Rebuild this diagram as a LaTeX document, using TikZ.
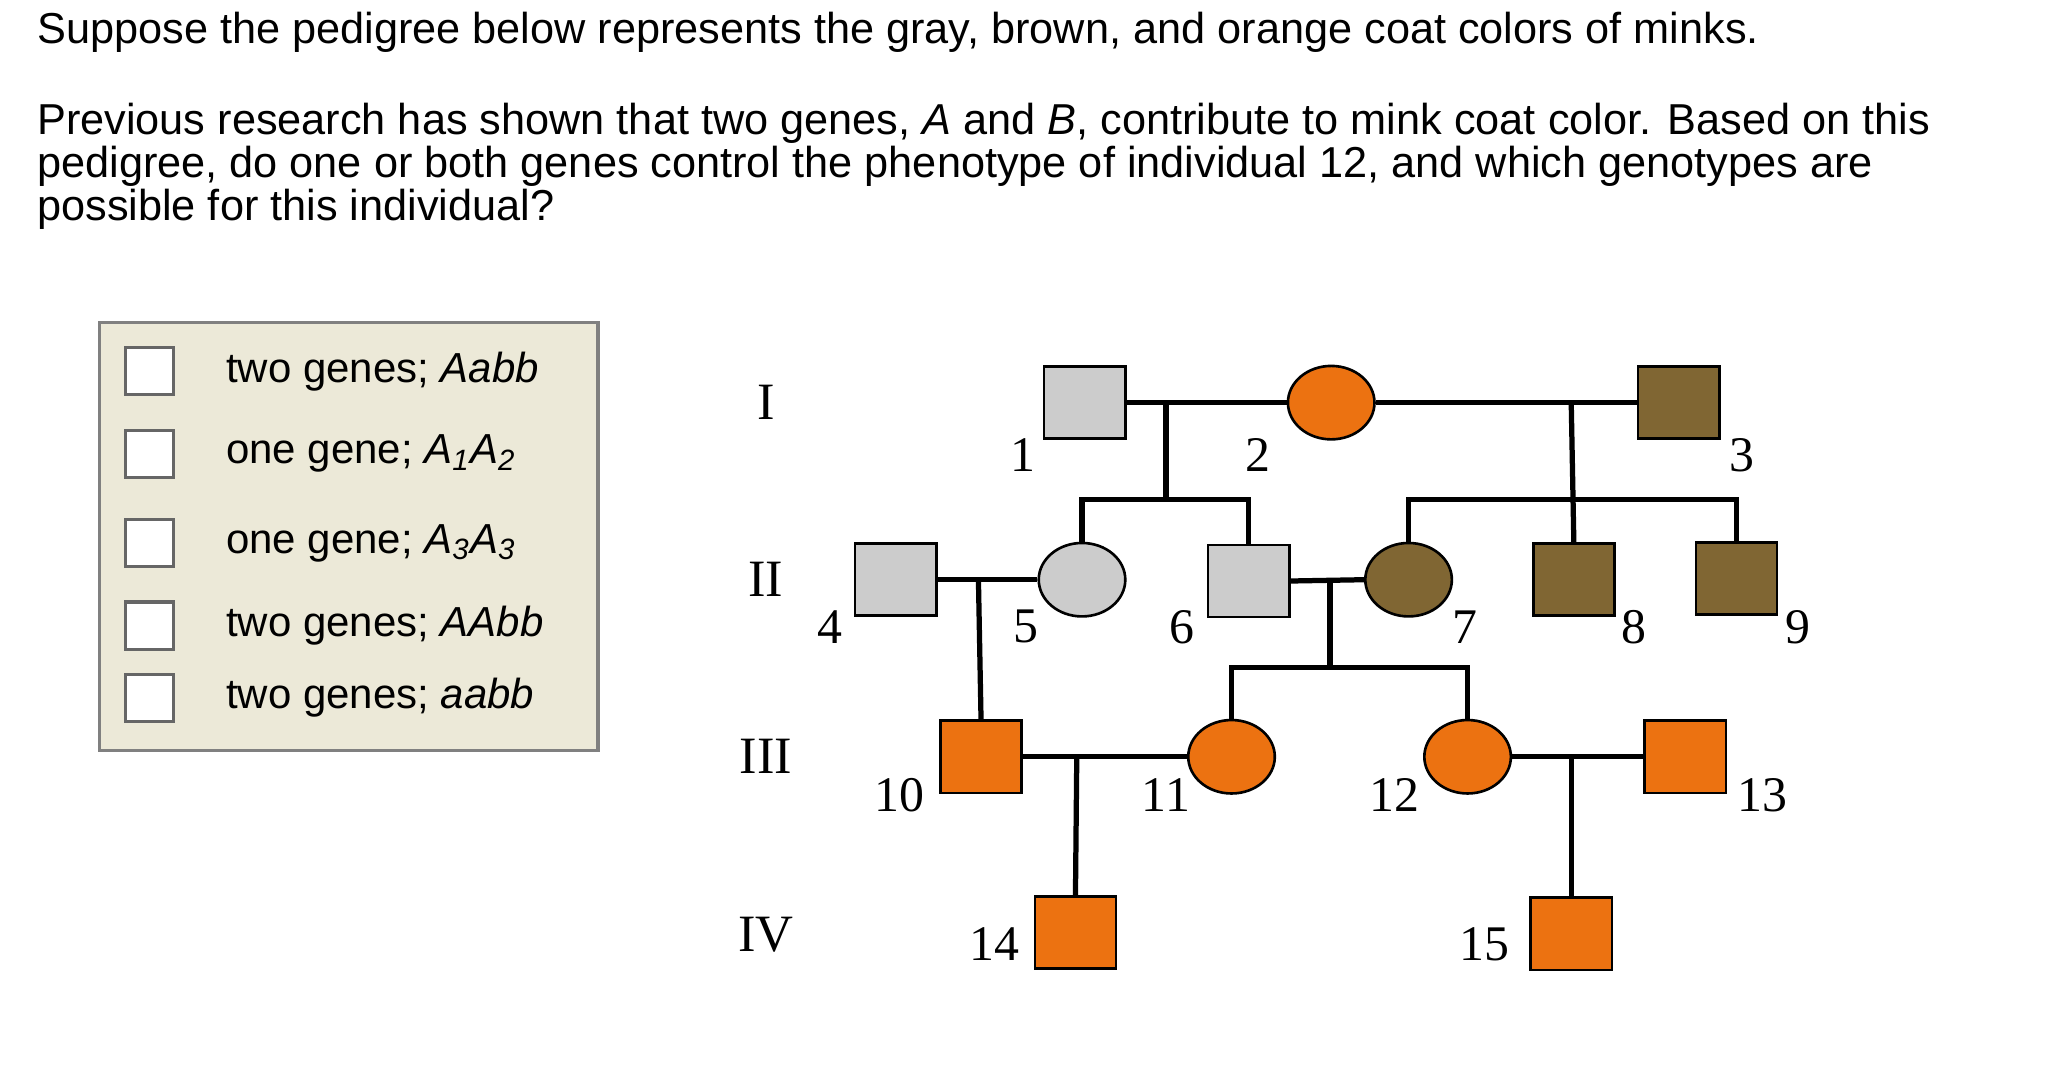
\documentclass[tikz,border=0pt]{standalone}
\usepackage{fontspec}
\setmainfont{Liberation Sans}
\newfontfamily\serifnum{Liberation Serif}
\usetikzlibrary{shapes.geometric}
\definecolor{gy}{HTML}{CCCCCC}
\definecolor{og}{HTML}{EC7211}
\definecolor{br}{HTML}{806633}
\definecolor{bx}{HTML}{ECE9D8}
\begin{document}
\begin{tikzpicture}[x=0.5pt,y=-0.5pt,
  male/.style={draw,line width=1pt,minimum width=31pt,minimum height=27.5pt,inner sep=0pt},
  fem/.style={draw,ellipse,line width=1pt,minimum width=33pt,minimum height=28pt,inner sep=0pt},
  ln/.style={line width=2pt},
  num/.style={font=\serifnum\fontsize{19}{19}\selectfont,inner sep=0pt},
  chk/.style={draw=gray!80!black,fill=white,line width=1.2pt,minimum size=18pt,inner sep=0pt},
  opt/.style={anchor=west,inner sep=0pt,font=\fontsize{16}{18}\selectfont}]
\useasboundingbox (0,0) rectangle (1560,829);
\node[anchor=west,inner sep=0pt,font=\fontsize{16.5}{18}\selectfont] (t1) at (28,25) {Suppose the pedigree below represents the gray, brown, and orange coat colors of minks.};
\node[anchor=north west,inner sep=0pt,align=left,font=\fontsize{16.5}{16.5}\selectfont] (t2) at (28,78) {Previous research has shown that two genes, \textit{A} and \textit{B}, contribute to mink coat color. Based on this\\pedigree, do one or both genes control the phenotype of individual 12, and which genotypes are\\possible for this individual?};
% answer box
\node[draw=gray,fill=bx,line width=1.2pt,minimum width=190pt,minimum height=163pt,inner sep=0pt] (box) at (266,409) {};
\foreach \y/\t [count=\i] in {283/{two genes; \textit{Aabb}},346/{one gene; \textit{A\textsubscript{1}A\textsubscript{2}}},414/{one gene; \textit{A\textsubscript{3}A\textsubscript{3}}},477/{two genes; \textit{AAbb}},532/{two genes; \textit{aabb}}}{
  \node[chk] (c\i) at (114,\y) {};
  \node[opt] (o\i) at (172,\y) {\t};
}
\begin{scope}[xshift=-2pt]
% generation labels
\foreach \y/\t in {307/I,442/II,577/III,713/IV}
  \node[num,font=\serifnum\fontsize{20}{20}\selectfont] (g\t) at (588,\y) {\t};
% individuals
\node[male,fill=gy] (n1) at (831,307) {};
\node[fem,fill=og] (n2) at (1019,307) {};
\node[male,fill=br] (n3) at (1284,307) {};
\node[male,fill=gy] (n4) at (687,442) {};
\node[fem,fill=gy] (n5) at (829,442) {};
\node[male,fill=gy] (n6) at (956,443) {};
\node[fem,fill=br] (n7) at (1078,442) {};
\node[male,fill=br] (n8) at (1204,442) {};
\node[male,fill=br] (n9) at (1328,441) {};
\node[male,fill=og] (n10) at (752,577) {};
\node[fem,fill=og] (n11) at (943,577) {};
\node[fem,fill=og] (n12) at (1123,577) {};
\node[male,fill=og] (n13) at (1289,577) {};
\node[male,fill=og] (n14) at (824,711) {};
\node[male,fill=og] (n15) at (1202,712) {};
% numbers
\foreach \n/\x/\y in {1/784/347,2/963/347,3/1332/347,4/637/478,5/786/478,6/905/478,7/1121/478,8/1250/478,9/1375/478,10/690/606,11/893/606,12/1067/606,13/1348/606,14/762/720,15/1136/720}
  \node[num] (l\n) at (\x,\y) {\n};
% connectors
\coordinate (m12) at (893,307);
\coordinate (m23) at (1202,307);
\coordinate (s1) at (893,381);
\coordinate (s2) at (1202,381);
\coordinate (m45) at (750,441);
\coordinate (m67) at (1018,441);
\coordinate (s3) at (1018,509);
\coordinate (m1011) at (825,577);
\coordinate (m1213) at (1202,577);
\end{scope}
\draw[ln] (n1.east) -- (n2.west);
\draw[ln] (n2.east) -- (n3.west);
\draw[ln] (m12) -- (s1);
\draw[ln] (n5.north) |- (s1) -| (n6.north);
\draw[ln] (m23) -- (n8.north);
\draw[ln] (n7.north) |- (s2) -| (n9.north);
\draw[ln] (n4.east) -- (n5.west);
\draw[ln] (m45) -- (n10.north);
\draw[ln] (n6.east) -- (n7.west);
\draw[ln] (m67) -- (s3);
\draw[ln] (n11.north) |- (s3) -| (n12.north);
\draw[ln] (n10.east) -- (n11.west);
\draw[ln] (m1011) -- (n14.north);
\draw[ln] (n12.east) -- (n13.west);
\draw[ln] (m1213) -- (n15.north);
\end{tikzpicture}
\end{document}
